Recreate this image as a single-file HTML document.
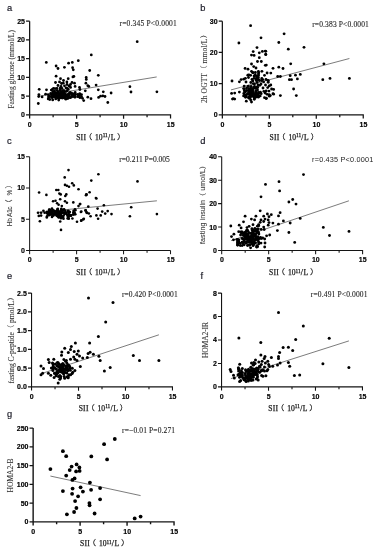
<!DOCTYPE html>
<html><head><meta charset="utf-8"><title>Figure</title>
<style>
html,body{margin:0;padding:0;background:#fff;}
svg{display:block}
.tk{font-family:"Liberation Sans",sans-serif;font-weight:bold;font-size:7px;fill:#000;stroke:#000;stroke-width:0.15px;}
.pl{font-family:"Liberation Sans",sans-serif;font-size:9.3px;fill:#1c1c28;stroke:#1c1c28;stroke-width:0.2px;}
.ax{font-family:"Liberation Serif","Noto Serif CJK SC",serif;font-size:7.6px;fill:#222;stroke:#222;stroke-width:0.25px;}
.ay{font-family:"Liberation Serif","Noto Serif CJK SC",serif;font-size:7.6px;fill:#333;stroke:#333;stroke-width:0.08px;}
.axs{font-family:"Liberation Sans","Noto Sans CJK SC",sans-serif;font-size:7px;fill:#444;stroke:#444;stroke-width:0.12px;}
.st{font-family:"Liberation Serif",serif;font-size:7.5px;fill:#222;stroke:#222;stroke-width:0.1px;}
.sts{font-family:"Liberation Sans",sans-serif;font-size:7.3px;fill:#222;}
.a{stroke:#141414;fill:none;}
.r{stroke:#444;stroke-width:0.7;fill:none;}
circle{fill:#000;}
</style></head><body>
<svg width="377" height="550" viewBox="0 0 377 550">
<rect width="377" height="550" fill="#fff"/>

<g id="panel-a">
<text class="pl" x="7.0" y="10.7">a</text>
<text class="tk" text-anchor="end" x="24.94" y="117.35">0</text>
<text class="tk" text-anchor="end" x="24.94" y="98.60">5</text>
<text class="tk" text-anchor="end" x="24.94" y="79.85">10</text>
<text class="tk" text-anchor="end" x="24.94" y="61.10">15</text>
<text class="tk" text-anchor="end" x="24.94" y="42.35">20</text>
<text class="tk" text-anchor="end" x="24.94" y="23.60">25</text>
<path class="a" stroke-width="1.25" d="M29.64 21.150000000000006V118.60000000000001M26.04 114.9H170.54000000000002V118.60000000000001M26.04 96.15H29.64M26.04 77.40H29.64M26.04 58.65H29.64M26.04 39.90H29.64M26.04 21.15H29.64M53.12 114.9v2.3M76.61 114.9v3.8M100.09 114.9v2.3M123.57 114.9v3.8M147.06 114.9v2.3"/>
<text class="tk" text-anchor="middle" x="29.79" y="126.70">0</text>
<text class="tk" text-anchor="middle" x="76.76" y="126.70">5</text>
<text class="tk" text-anchor="middle" x="123.72" y="126.70">10</text>
<text class="tk" text-anchor="middle" x="170.69" y="126.70">15</text>
<text class="ax" y="139.70"><tspan x="76.14" letter-spacing="0.25">SII</tspan><tspan x="84.64">（</tspan><tspan x="95.04">10</tspan><tspan dy="-2.7" font-size="5.3px">11</tspan><tspan dy="2.7" dx="0.2" letter-spacing="0.6">/L</tspan><tspan x="117.04">）</tspan></text>
<text class="ay" transform="translate(13.6 108.60) rotate(-90)" textLength="78.6">Fasting glucose (mmol/L)</text>
<text class="st" x="119.5" y="26.4" textLength="57.3">r=0.345 P&lt;0.0001</text>
<path class="r" d="M37.8 96.4L156.7 76.95"/>
<circle cx="46.3" cy="62.4" r="1.38"/>
<circle cx="56.1" cy="66.0" r="1.38"/>
<circle cx="58.0" cy="68.5" r="1.38"/>
<circle cx="64.4" cy="67.3" r="1.38"/>
<circle cx="68.6" cy="63.2" r="1.38"/>
<circle cx="72.3" cy="62.4" r="1.38"/>
<circle cx="72.6" cy="67.7" r="1.38"/>
<circle cx="73.3" cy="69.8" r="1.38"/>
<circle cx="56.1" cy="76.2" r="1.38"/>
<circle cx="60.5" cy="78.7" r="1.38"/>
<circle cx="73.9" cy="76.4" r="1.38"/>
<circle cx="72.9" cy="76.9" r="1.38"/>
<circle cx="68.2" cy="78.7" r="1.38"/>
<circle cx="55.5" cy="82.5" r="1.38"/>
<circle cx="59.5" cy="81.9" r="1.38"/>
<circle cx="63.3" cy="83.2" r="1.38"/>
<circle cx="66.9" cy="81.9" r="1.38"/>
<circle cx="72.0" cy="82.5" r="1.38"/>
<circle cx="39.2" cy="89.3" r="1.38"/>
<circle cx="46.5" cy="89.8" r="1.38"/>
<circle cx="52.3" cy="89.5" r="1.38"/>
<circle cx="38.9" cy="94.6" r="1.38"/>
<circle cx="38.7" cy="96.5" r="1.38"/>
<circle cx="42.1" cy="96.9" r="1.38"/>
<circle cx="38.3" cy="103.5" r="1.38"/>
<circle cx="91.3" cy="54.9" r="1.38"/>
<circle cx="78.3" cy="60.7" r="1.38"/>
<circle cx="89.7" cy="70.5" r="1.38"/>
<circle cx="98.3" cy="75.3" r="1.38"/>
<circle cx="86.2" cy="77.5" r="1.38"/>
<circle cx="86.3" cy="79.4" r="1.38"/>
<circle cx="74.5" cy="83.2" r="1.38"/>
<circle cx="85.9" cy="83.2" r="1.38"/>
<circle cx="87.8" cy="85.7" r="1.38"/>
<circle cx="88.8" cy="86.4" r="1.38"/>
<circle cx="96.1" cy="85.1" r="1.38"/>
<circle cx="75.1" cy="86.4" r="1.38"/>
<circle cx="79.5" cy="87.4" r="1.38"/>
<circle cx="70.6" cy="87.4" r="1.38"/>
<circle cx="79.9" cy="89.5" r="1.38"/>
<circle cx="85.3" cy="90.8" r="1.38"/>
<circle cx="98.3" cy="89.8" r="1.38"/>
<circle cx="103.3" cy="91.8" r="1.38"/>
<circle cx="111.1" cy="93.0" r="1.38"/>
<circle cx="98.6" cy="97.4" r="1.38"/>
<circle cx="100.5" cy="96.2" r="1.38"/>
<circle cx="102.8" cy="95.9" r="1.38"/>
<circle cx="105.0" cy="96.5" r="1.38"/>
<circle cx="87.8" cy="97.2" r="1.38"/>
<circle cx="91.0" cy="98.7" r="1.38"/>
<circle cx="83.7" cy="100.6" r="1.38"/>
<circle cx="107.8" cy="102.5" r="1.38"/>
<circle cx="81.5" cy="94.6" r="1.38"/>
<circle cx="78.3" cy="96.5" r="1.38"/>
<circle cx="75.1" cy="97.2" r="1.38"/>
<circle cx="129.9" cy="86.7" r="1.38"/>
<circle cx="131.0" cy="92.0" r="1.38"/>
<circle cx="156.9" cy="91.8" r="1.38"/>
<circle cx="137.2" cy="41.7" r="1.38"/>
<circle cx="58.0" cy="85.5" r="1.38"/>
<circle cx="61.0" cy="86.5" r="1.38"/>
<circle cx="64.5" cy="85.8" r="1.38"/>
<circle cx="62.0" cy="88.5" r="1.38"/>
<circle cx="66.0" cy="88.0" r="1.38"/>
<circle cx="69.0" cy="86.0" r="1.38"/>
<circle cx="57.0" cy="88.5" r="1.38"/>
<circle cx="60.0" cy="90.0" r="1.38"/>
<circle cx="67.0" cy="84.5" r="1.38"/>
<circle cx="70.5" cy="84.5" r="1.38"/>
<circle cx="63.5" cy="80.5" r="1.38"/>
<circle cx="61.5" cy="83.5" r="1.38"/>
<circle cx="61.4" cy="95.7" r="1.38"/>
<circle cx="75.6" cy="94.3" r="1.38"/>
<circle cx="62.5" cy="95.8" r="1.38"/>
<circle cx="55.4" cy="95.8" r="1.38"/>
<circle cx="65.4" cy="96.8" r="1.38"/>
<circle cx="52.4" cy="94.6" r="1.38"/>
<circle cx="52.3" cy="97.7" r="1.38"/>
<circle cx="67.1" cy="90.9" r="1.38"/>
<circle cx="79.9" cy="97.7" r="1.38"/>
<circle cx="66.0" cy="95.7" r="1.38"/>
<circle cx="54.6" cy="90.9" r="1.38"/>
<circle cx="63.0" cy="91.4" r="1.38"/>
<circle cx="55.5" cy="93.9" r="1.38"/>
<circle cx="49.2" cy="95.9" r="1.38"/>
<circle cx="61.1" cy="97.5" r="1.38"/>
<circle cx="62.8" cy="96.0" r="1.38"/>
<circle cx="62.4" cy="96.2" r="1.38"/>
<circle cx="61.5" cy="93.9" r="1.38"/>
<circle cx="82.5" cy="98.3" r="1.38"/>
<circle cx="71.8" cy="95.9" r="1.38"/>
<circle cx="58.6" cy="93.6" r="1.38"/>
<circle cx="58.0" cy="91.9" r="1.38"/>
<circle cx="69.2" cy="94.3" r="1.38"/>
<circle cx="72.0" cy="94.0" r="1.38"/>
<circle cx="77.7" cy="96.5" r="1.38"/>
<circle cx="45.6" cy="94.2" r="1.38"/>
<circle cx="74.8" cy="94.4" r="1.38"/>
<circle cx="79.7" cy="93.6" r="1.38"/>
<circle cx="51.5" cy="96.7" r="1.38"/>
<circle cx="69.6" cy="93.3" r="1.38"/>
<circle cx="52.1" cy="94.8" r="1.38"/>
<circle cx="78.2" cy="95.8" r="1.38"/>
<circle cx="53.3" cy="94.1" r="1.38"/>
<circle cx="52.7" cy="92.1" r="1.38"/>
<circle cx="70.2" cy="92.5" r="1.38"/>
<circle cx="63.7" cy="94.9" r="1.38"/>
<circle cx="55.6" cy="97.0" r="1.38"/>
<circle cx="53.8" cy="96.6" r="1.38"/>
<circle cx="53.3" cy="95.4" r="1.38"/>
<circle cx="56.2" cy="94.1" r="1.38"/>
<circle cx="78.8" cy="96.1" r="1.38"/>
<circle cx="58.3" cy="98.0" r="1.38"/>
<circle cx="56.1" cy="95.0" r="1.38"/>
<circle cx="72.3" cy="95.5" r="1.38"/>
<circle cx="52.7" cy="99.9" r="1.38"/>
<circle cx="56.2" cy="94.0" r="1.38"/>
<circle cx="69.4" cy="93.8" r="1.38"/>
<circle cx="58.2" cy="91.9" r="1.38"/>
<circle cx="52.3" cy="96.4" r="1.38"/>
<circle cx="56.9" cy="96.2" r="1.38"/>
<circle cx="59.7" cy="95.2" r="1.38"/>
<circle cx="77.8" cy="94.3" r="1.38"/>
<circle cx="64.0" cy="97.5" r="1.38"/>
<circle cx="55.3" cy="93.1" r="1.38"/>
<circle cx="74.7" cy="96.4" r="1.38"/>
<circle cx="57.1" cy="93.4" r="1.38"/>
<circle cx="68.4" cy="98.0" r="1.38"/>
<circle cx="55.7" cy="98.9" r="1.38"/>
<circle cx="73.5" cy="95.2" r="1.38"/>
<circle cx="60.7" cy="92.2" r="1.38"/>
<circle cx="49.8" cy="99.5" r="1.38"/>
<circle cx="56.8" cy="96.8" r="1.38"/>
<circle cx="57.3" cy="97.5" r="1.38"/>
<circle cx="64.6" cy="93.8" r="1.38"/>
<circle cx="55.1" cy="97.0" r="1.38"/>
<circle cx="51.3" cy="94.1" r="1.38"/>
<circle cx="63.7" cy="97.4" r="1.38"/>
<circle cx="65.0" cy="93.7" r="1.38"/>
<circle cx="75.2" cy="92.4" r="1.38"/>
<circle cx="48.1" cy="94.6" r="1.38"/>
<circle cx="61.2" cy="91.6" r="1.38"/>
<circle cx="55.2" cy="94.9" r="1.38"/>
<circle cx="64.0" cy="92.4" r="1.38"/>
<circle cx="59.6" cy="98.0" r="1.38"/>
<circle cx="79.7" cy="95.1" r="1.38"/>
<circle cx="67.0" cy="95.5" r="1.38"/>
<circle cx="54.1" cy="91.5" r="1.38"/>
<circle cx="48.2" cy="98.9" r="1.38"/>
<circle cx="67.3" cy="98.4" r="1.38"/>
<circle cx="48.5" cy="96.9" r="1.38"/>
<circle cx="62.0" cy="96.6" r="1.38"/>
<circle cx="58.7" cy="100.0" r="1.38"/>
<circle cx="51.6" cy="96.2" r="1.38"/>
<circle cx="68.3" cy="97.6" r="1.38"/>
<circle cx="68.3" cy="96.1" r="1.38"/>
<circle cx="70.1" cy="97.6" r="1.38"/>
<circle cx="59.3" cy="96.5" r="1.38"/>
<circle cx="74.4" cy="96.9" r="1.38"/>
<circle cx="60.6" cy="97.1" r="1.38"/>
<circle cx="72.7" cy="95.1" r="1.38"/>
<circle cx="65.3" cy="94.4" r="1.38"/>
<circle cx="64.2" cy="95.8" r="1.38"/>
<circle cx="51.8" cy="96.7" r="1.38"/>
<circle cx="81.5" cy="96.6" r="1.38"/>
<circle cx="68.1" cy="94.3" r="1.38"/>
<circle cx="68.3" cy="95.4" r="1.38"/>
<circle cx="61.1" cy="97.4" r="1.38"/>
<circle cx="52.0" cy="97.3" r="1.38"/>
<circle cx="49.2" cy="96.7" r="1.38"/>
<circle cx="62.0" cy="93.4" r="1.38"/>
<circle cx="67.2" cy="95.0" r="1.38"/>
<circle cx="65.0" cy="98.0" r="1.38"/>
<circle cx="57.2" cy="90.6" r="1.38"/>
<circle cx="58.3" cy="96.5" r="1.38"/>
<circle cx="55.9" cy="93.2" r="1.38"/>
<circle cx="74.6" cy="95.4" r="1.38"/>
<circle cx="61.1" cy="97.9" r="1.38"/>
<circle cx="58.8" cy="96.4" r="1.38"/>
<circle cx="55.8" cy="95.3" r="1.38"/>
<circle cx="70.5" cy="97.6" r="1.38"/>
<circle cx="73.4" cy="93.9" r="1.38"/>
<circle cx="64.2" cy="94.0" r="1.38"/>
<circle cx="53.9" cy="95.8" r="1.38"/>
<circle cx="71.7" cy="96.9" r="1.38"/>
<circle cx="67.6" cy="98.2" r="1.38"/>
<circle cx="57.7" cy="93.1" r="1.38"/>
<circle cx="61.3" cy="93.9" r="1.38"/>
<circle cx="56.2" cy="95.1" r="1.38"/>
<circle cx="65.3" cy="95.1" r="1.38"/>
<circle cx="58.6" cy="97.6" r="1.38"/>
<circle cx="71.5" cy="93.1" r="1.38"/>
<circle cx="53.5" cy="88.3" r="1.38"/>
<circle cx="67.3" cy="88.5" r="1.38"/>
<circle cx="63.9" cy="94.1" r="1.38"/>
<circle cx="58.2" cy="96.3" r="1.38"/>
<circle cx="51.3" cy="90.1" r="1.38"/>
<circle cx="60.2" cy="88.1" r="1.38"/>
<circle cx="66.3" cy="91.3" r="1.38"/>
<circle cx="55.2" cy="88.6" r="1.38"/>
<circle cx="62.6" cy="93.1" r="1.38"/>
<circle cx="62.6" cy="94.9" r="1.38"/>
<circle cx="65.8" cy="99.2" r="1.38"/>
<circle cx="63.5" cy="90.9" r="1.38"/>
<circle cx="60.4" cy="90.7" r="1.38"/>
<circle cx="50.7" cy="93.3" r="1.38"/>
<circle cx="64.0" cy="90.7" r="1.38"/>
<circle cx="57.7" cy="92.3" r="1.38"/>
<circle cx="63.7" cy="93.7" r="1.38"/>
<circle cx="62.4" cy="95.9" r="1.38"/>
<circle cx="59.4" cy="96.3" r="1.38"/>
<circle cx="68.3" cy="89.4" r="1.38"/>
<circle cx="69.1" cy="95.6" r="1.38"/>
<circle cx="55.0" cy="93.2" r="1.38"/>
<circle cx="62.6" cy="98.1" r="1.38"/>
<circle cx="59.2" cy="94.1" r="1.38"/>
<circle cx="67.5" cy="96.4" r="1.38"/>
<circle cx="69.6" cy="93.2" r="1.38"/>
<circle cx="63.0" cy="91.0" r="1.38"/>
</g>
<g id="panel-b">
<text class="pl" x="200.3" y="11.1">b</text>
<text class="tk" text-anchor="end" x="217.65" y="117.35">0</text>
<text class="tk" text-anchor="end" x="217.65" y="86.10">10</text>
<text class="tk" text-anchor="end" x="217.65" y="54.85">20</text>
<text class="tk" text-anchor="end" x="217.65" y="23.60">30</text>
<path class="a" stroke-width="1.25" d="M222.35 21.150000000000006V118.60000000000001M218.75 114.9H363.25V118.60000000000001M218.75 83.65H222.35M218.75 52.40H222.35M218.75 21.15H222.35M245.83 114.9v2.3M269.32 114.9v3.8M292.80 114.9v2.3M316.28 114.9v3.8M339.77 114.9v2.3"/>
<text class="tk" text-anchor="middle" x="222.50" y="126.70">0</text>
<text class="tk" text-anchor="middle" x="269.47" y="126.70">5</text>
<text class="tk" text-anchor="middle" x="316.43" y="126.70">10</text>
<text class="tk" text-anchor="middle" x="363.40" y="126.70">15</text>
<text class="ax" y="139.70"><tspan x="269.55" letter-spacing="0.25">SII</tspan><tspan x="278.05">（</tspan><tspan x="288.45">10</tspan><tspan dy="-2.7" font-size="5.3px">11</tspan><tspan dy="2.7" dx="0.2" letter-spacing="0.6">/L</tspan><tspan x="310.45">）</tspan></text>
<text class="ay" transform="translate(206.8 103.00) rotate(-90)" textLength="72">2h OGTT（ mmol/L）</text>
<text class="st" x="312.2" y="26.5" textLength="56.6">r=0.383 P&lt;0.0001</text>
<path class="r" d="M231 89.9L349.4 58.5"/>
<circle cx="250.6" cy="25.7" r="1.42"/>
<circle cx="261.0" cy="37.8" r="1.42"/>
<circle cx="238.9" cy="43.0" r="1.42"/>
<circle cx="257.0" cy="47.6" r="1.42"/>
<circle cx="253.2" cy="51.6" r="1.42"/>
<circle cx="259.3" cy="52.8" r="1.42"/>
<circle cx="262.4" cy="51.4" r="1.42"/>
<circle cx="265.3" cy="51.1" r="1.42"/>
<circle cx="251.5" cy="55.1" r="1.42"/>
<circle cx="254.1" cy="55.4" r="1.42"/>
<circle cx="265.7" cy="54.5" r="1.42"/>
<circle cx="259.3" cy="57.7" r="1.42"/>
<circle cx="257.5" cy="61.5" r="1.42"/>
<circle cx="261.3" cy="61.5" r="1.42"/>
<circle cx="251.5" cy="64.0" r="1.42"/>
<circle cx="265.3" cy="65.3" r="1.42"/>
<circle cx="253.7" cy="66.6" r="1.42"/>
<circle cx="245.1" cy="68.4" r="1.42"/>
<circle cx="248.0" cy="69.2" r="1.42"/>
<circle cx="251.5" cy="71.3" r="1.42"/>
<circle cx="258.4" cy="71.5" r="1.42"/>
<circle cx="261.9" cy="71.3" r="1.42"/>
<circle cx="253.2" cy="72.7" r="1.42"/>
<circle cx="250.6" cy="75.3" r="1.42"/>
<circle cx="254.1" cy="76.1" r="1.42"/>
<circle cx="264.5" cy="75.3" r="1.42"/>
<circle cx="232.0" cy="81.0" r="1.42"/>
<circle cx="241.1" cy="79.6" r="1.42"/>
<circle cx="243.7" cy="79.2" r="1.42"/>
<circle cx="239.4" cy="81.8" r="1.42"/>
<circle cx="267.9" cy="80.5" r="1.42"/>
<circle cx="262.7" cy="79.6" r="1.42"/>
<circle cx="231.6" cy="93.4" r="1.42"/>
<circle cx="234.7" cy="93.1" r="1.42"/>
<circle cx="232.5" cy="99.1" r="1.42"/>
<circle cx="234.7" cy="99.1" r="1.42"/>
<circle cx="246.3" cy="101.2" r="1.42"/>
<circle cx="251.5" cy="102.0" r="1.42"/>
<circle cx="264.5" cy="97.7" r="1.42"/>
<circle cx="284.1" cy="33.8" r="1.42"/>
<circle cx="278.8" cy="42.5" r="1.42"/>
<circle cx="288.3" cy="49.2" r="1.42"/>
<circle cx="304.0" cy="47.3" r="1.42"/>
<circle cx="290.7" cy="63.8" r="1.42"/>
<circle cx="323.9" cy="63.8" r="1.42"/>
<circle cx="273.0" cy="68.3" r="1.42"/>
<circle cx="278.8" cy="67.2" r="1.42"/>
<circle cx="283.0" cy="68.5" r="1.42"/>
<circle cx="270.8" cy="73.1" r="1.42"/>
<circle cx="277.7" cy="76.5" r="1.42"/>
<circle cx="280.4" cy="76.5" r="1.42"/>
<circle cx="290.2" cy="75.7" r="1.42"/>
<circle cx="295.5" cy="75.2" r="1.42"/>
<circle cx="300.3" cy="74.4" r="1.42"/>
<circle cx="289.4" cy="79.7" r="1.42"/>
<circle cx="291.5" cy="79.7" r="1.42"/>
<circle cx="297.4" cy="78.9" r="1.42"/>
<circle cx="322.8" cy="79.7" r="1.42"/>
<circle cx="330.0" cy="78.4" r="1.42"/>
<circle cx="349.4" cy="78.4" r="1.42"/>
<circle cx="293.6" cy="89.0" r="1.42"/>
<circle cx="280.4" cy="95.6" r="1.42"/>
<circle cx="296.3" cy="95.6" r="1.42"/>
<circle cx="265.8" cy="51.3" r="1.42"/>
<circle cx="265.8" cy="54.5" r="1.42"/>
<circle cx="266.3" cy="65.1" r="1.42"/>
<circle cx="267.1" cy="73.0" r="1.42"/>
<circle cx="268.2" cy="82.3" r="1.42"/>
<circle cx="270.8" cy="85.0" r="1.42"/>
<circle cx="267.7" cy="87.6" r="1.42"/>
<circle cx="271.6" cy="89.0" r="1.42"/>
<circle cx="269.0" cy="91.1" r="1.42"/>
<circle cx="273.0" cy="93.7" r="1.42"/>
<circle cx="267.1" cy="94.3" r="1.42"/>
<circle cx="270.3" cy="95.6" r="1.42"/>
<circle cx="266.3" cy="98.2" r="1.42"/>
<circle cx="233.3" cy="98.6" r="1.42"/>
<circle cx="269.2" cy="94.7" r="1.42"/>
<circle cx="273.6" cy="94.2" r="1.42"/>
<circle cx="266.0" cy="79.5" r="1.42"/>
<circle cx="263.6" cy="81.9" r="1.42"/>
<circle cx="268.4" cy="80.8" r="1.42"/>
<circle cx="269.2" cy="85.9" r="1.42"/>
<circle cx="273.6" cy="89.4" r="1.42"/>
<circle cx="256.0" cy="68.0" r="1.42"/>
<circle cx="258.5" cy="75.5" r="1.42"/>
<circle cx="256.0" cy="79.0" r="1.42"/>
<circle cx="259.5" cy="80.5" r="1.42"/>
<circle cx="252.0" cy="79.5" r="1.42"/>
<circle cx="248.5" cy="77.5" r="1.42"/>
<circle cx="246.0" cy="82.0" r="1.42"/>
<circle cx="261.0" cy="84.0" r="1.42"/>
<circle cx="263.0" cy="88.0" r="1.42"/>
<circle cx="257.0" cy="82.5" r="1.42"/>
<circle cx="254.5" cy="84.0" r="1.42"/>
<circle cx="253.5" cy="94.2" r="1.42"/>
<circle cx="255.8" cy="97.2" r="1.42"/>
<circle cx="255.0" cy="96.8" r="1.42"/>
<circle cx="245.2" cy="91.6" r="1.42"/>
<circle cx="258.7" cy="93.2" r="1.42"/>
<circle cx="257.7" cy="87.5" r="1.42"/>
<circle cx="252.0" cy="89.4" r="1.42"/>
<circle cx="252.7" cy="92.5" r="1.42"/>
<circle cx="244.5" cy="89.0" r="1.42"/>
<circle cx="249.9" cy="96.7" r="1.42"/>
<circle cx="255.3" cy="88.2" r="1.42"/>
<circle cx="255.8" cy="87.9" r="1.42"/>
<circle cx="253.5" cy="87.7" r="1.42"/>
<circle cx="243.6" cy="95.9" r="1.42"/>
<circle cx="249.0" cy="89.0" r="1.42"/>
<circle cx="260.2" cy="95.9" r="1.42"/>
<circle cx="250.0" cy="97.7" r="1.42"/>
<circle cx="252.6" cy="93.5" r="1.42"/>
<circle cx="248.9" cy="97.2" r="1.42"/>
<circle cx="254.3" cy="97.9" r="1.42"/>
<circle cx="257.5" cy="90.0" r="1.42"/>
<circle cx="250.9" cy="88.3" r="1.42"/>
<circle cx="248.0" cy="86.5" r="1.42"/>
<circle cx="250.2" cy="92.8" r="1.42"/>
<circle cx="243.8" cy="93.5" r="1.42"/>
<circle cx="250.6" cy="90.1" r="1.42"/>
<circle cx="256.1" cy="91.7" r="1.42"/>
<circle cx="250.3" cy="91.7" r="1.42"/>
<circle cx="254.5" cy="86.3" r="1.42"/>
<circle cx="259.8" cy="85.3" r="1.42"/>
<circle cx="255.1" cy="95.5" r="1.42"/>
<circle cx="244.8" cy="94.7" r="1.42"/>
<circle cx="250.9" cy="92.5" r="1.42"/>
<circle cx="244.2" cy="86.1" r="1.42"/>
<circle cx="248.6" cy="97.6" r="1.42"/>
<circle cx="248.8" cy="94.3" r="1.42"/>
<circle cx="258.3" cy="97.2" r="1.42"/>
<circle cx="250.7" cy="90.6" r="1.42"/>
<circle cx="252.5" cy="94.6" r="1.42"/>
<circle cx="247.3" cy="94.2" r="1.42"/>
<circle cx="255.8" cy="95.7" r="1.42"/>
<circle cx="245.5" cy="97.3" r="1.42"/>
<circle cx="246.9" cy="90.4" r="1.42"/>
<circle cx="253.4" cy="96.7" r="1.42"/>
<circle cx="250.6" cy="96.8" r="1.42"/>
<circle cx="252.7" cy="90.1" r="1.42"/>
<circle cx="250.4" cy="88.5" r="1.42"/>
<circle cx="246.7" cy="88.1" r="1.42"/>
<circle cx="254.3" cy="99.3" r="1.42"/>
<circle cx="248.3" cy="86.1" r="1.42"/>
<circle cx="260.4" cy="92.2" r="1.42"/>
<circle cx="251.3" cy="89.3" r="1.42"/>
<circle cx="253.2" cy="95.2" r="1.42"/>
<circle cx="251.8" cy="91.2" r="1.42"/>
<circle cx="246.1" cy="96.7" r="1.42"/>
<circle cx="245.4" cy="91.8" r="1.42"/>
<circle cx="256.5" cy="87.8" r="1.42"/>
<circle cx="254.9" cy="97.4" r="1.42"/>
<circle cx="255.2" cy="95.1" r="1.42"/>
<circle cx="244.3" cy="90.8" r="1.42"/>
<circle cx="245.6" cy="96.0" r="1.42"/>
<circle cx="249.1" cy="91.0" r="1.42"/>
<circle cx="269.4" cy="96.2" r="1.42"/>
<circle cx="266.2" cy="91.0" r="1.42"/>
<circle cx="252.6" cy="94.3" r="1.42"/>
<circle cx="252.4" cy="88.8" r="1.42"/>
<circle cx="251.1" cy="86.3" r="1.42"/>
<circle cx="250.7" cy="100.0" r="1.42"/>
<circle cx="265.1" cy="93.0" r="1.42"/>
<circle cx="252.8" cy="89.5" r="1.42"/>
<circle cx="243.6" cy="88.6" r="1.42"/>
<circle cx="258.6" cy="96.4" r="1.42"/>
<circle cx="250.4" cy="95.1" r="1.42"/>
<circle cx="258.4" cy="93.8" r="1.42"/>
<circle cx="255.9" cy="94.7" r="1.42"/>
<circle cx="250.4" cy="93.9" r="1.42"/>
<circle cx="248.8" cy="91.4" r="1.42"/>
<circle cx="258.3" cy="93.8" r="1.42"/>
<circle cx="249.1" cy="98.3" r="1.42"/>
<circle cx="255.6" cy="92.5" r="1.42"/>
<circle cx="239.4" cy="92.1" r="1.42"/>
<circle cx="248.1" cy="93.5" r="1.42"/>
<circle cx="252.1" cy="95.5" r="1.42"/>
<circle cx="255.5" cy="95.2" r="1.42"/>
<circle cx="250.1" cy="93.2" r="1.42"/>
<circle cx="257.5" cy="95.7" r="1.42"/>
<circle cx="250.2" cy="96.0" r="1.42"/>
<circle cx="261.2" cy="93.7" r="1.42"/>
<circle cx="266.2" cy="98.6" r="1.42"/>
<circle cx="253.1" cy="91.9" r="1.42"/>
<circle cx="246.1" cy="95.9" r="1.42"/>
<circle cx="263.9" cy="91.3" r="1.42"/>
<circle cx="256.5" cy="94.1" r="1.42"/>
<circle cx="257.3" cy="86.8" r="1.42"/>
<circle cx="258.6" cy="92.5" r="1.42"/>
<circle cx="255.9" cy="90.6" r="1.42"/>
<circle cx="255.1" cy="94.9" r="1.42"/>
<circle cx="255.3" cy="94.1" r="1.42"/>
<circle cx="247.8" cy="75.2" r="1.42"/>
<circle cx="256.3" cy="80.5" r="1.42"/>
<circle cx="252.9" cy="80.9" r="1.42"/>
<circle cx="258.7" cy="72.7" r="1.42"/>
<circle cx="256.7" cy="76.2" r="1.42"/>
<circle cx="248.9" cy="74.8" r="1.42"/>
<circle cx="254.6" cy="75.6" r="1.42"/>
<circle cx="252.5" cy="72.5" r="1.42"/>
<circle cx="256.6" cy="78.0" r="1.42"/>
<circle cx="258.4" cy="80.0" r="1.42"/>
<circle cx="253.3" cy="83.6" r="1.42"/>
<circle cx="245.4" cy="78.3" r="1.42"/>
<circle cx="254.0" cy="78.3" r="1.42"/>
<circle cx="250.8" cy="82.5" r="1.42"/>
<circle cx="255.4" cy="72.5" r="1.42"/>
<circle cx="258.5" cy="74.0" r="1.42"/>
<circle cx="257.6" cy="77.6" r="1.42"/>
<circle cx="258.0" cy="84.8" r="1.42"/>
<circle cx="261.8" cy="78.4" r="1.42"/>
<circle cx="261.7" cy="80.5" r="1.42"/>
<circle cx="255.3" cy="74.9" r="1.42"/>
<circle cx="258.2" cy="79.8" r="1.42"/>
<circle cx="265.5" cy="85.0" r="1.42"/>
<circle cx="258.4" cy="77.7" r="1.42"/>
</g>
<g id="panel-c">
<text class="pl" x="7.1" y="143.7">c</text>
<text class="tk" text-anchor="end" x="24.94" y="252.95">0</text>
<text class="tk" text-anchor="end" x="24.94" y="221.70">5</text>
<text class="tk" text-anchor="end" x="24.94" y="190.45">10</text>
<text class="tk" text-anchor="end" x="24.94" y="159.20">15</text>
<path class="a" stroke-width="1.0" d="M29.64 156.75V254.2M26.04 250.5H170.54000000000002V254.2M26.04 219.25H29.64M26.04 188.00H29.64M26.04 156.75H29.64M53.12 250.5v2.3M76.61 250.5v3.8M100.09 250.5v2.3M123.57 250.5v3.8M147.06 250.5v2.3"/>
<text class="tk" text-anchor="middle" x="29.79" y="262.30">0</text>
<text class="tk" text-anchor="middle" x="76.76" y="262.30">5</text>
<text class="tk" text-anchor="middle" x="123.72" y="262.30">10</text>
<text class="tk" text-anchor="middle" x="170.69" y="262.30">15</text>
<text class="ax" y="275.30"><tspan x="76.14" letter-spacing="0.25">SII</tspan><tspan x="84.64">（</tspan><tspan x="95.04">10</tspan><tspan dy="-2.7" font-size="5.3px">11</tspan><tspan dy="2.7" dx="0.2" letter-spacing="0.6">/L</tspan><tspan x="117.04">）</tspan></text>
<text class="axs" style="font-size:6.5px" transform="translate(12.1 225.8) rotate(-90)"><tspan x="-0.4 3.95 8.8 13.0 16.15">HbA1c</tspan><tspan x="18.9" font-size="7.5px">（</tspan><tspan x="30.3">%</tspan><tspan x="37.3" font-size="7.5px">）</tspan></text>
<text class="st" x="119.3" y="162.0" textLength="50.5">r=0.211 P=0.005</text>
<path class="r" d="M37.8 212.4L156.9 200.8"/>
<circle cx="68.5" cy="170.1" r="1.32"/>
<circle cx="64.7" cy="177.4" r="1.32"/>
<circle cx="72.2" cy="183.3" r="1.32"/>
<circle cx="73.8" cy="185.4" r="1.32"/>
<circle cx="65.0" cy="184.9" r="1.32"/>
<circle cx="66.9" cy="185.7" r="1.32"/>
<circle cx="69.0" cy="186.8" r="1.32"/>
<circle cx="78.5" cy="189.2" r="1.32"/>
<circle cx="56.3" cy="190.0" r="1.32"/>
<circle cx="58.3" cy="190.0" r="1.32"/>
<circle cx="39.1" cy="192.5" r="1.32"/>
<circle cx="46.4" cy="194.9" r="1.32"/>
<circle cx="59.4" cy="193.6" r="1.32"/>
<circle cx="60.7" cy="194.4" r="1.32"/>
<circle cx="66.3" cy="194.4" r="1.32"/>
<circle cx="65.3" cy="196.0" r="1.32"/>
<circle cx="86.5" cy="194.4" r="1.32"/>
<circle cx="60.2" cy="199.2" r="1.32"/>
<circle cx="53.1" cy="201.3" r="1.32"/>
<circle cx="55.5" cy="200.8" r="1.32"/>
<circle cx="65.0" cy="201.3" r="1.32"/>
<circle cx="66.9" cy="202.7" r="1.32"/>
<circle cx="73.3" cy="202.4" r="1.32"/>
<circle cx="80.1" cy="204.0" r="1.32"/>
<circle cx="57.1" cy="203.2" r="1.32"/>
<circle cx="58.6" cy="204.8" r="1.32"/>
<circle cx="61.8" cy="206.1" r="1.32"/>
<circle cx="78.5" cy="206.1" r="1.32"/>
<circle cx="39.9" cy="221.2" r="1.32"/>
<circle cx="60.2" cy="221.5" r="1.32"/>
<circle cx="61.0" cy="229.9" r="1.32"/>
<circle cx="77.0" cy="221.8" r="1.32"/>
<circle cx="81.2" cy="220.7" r="1.32"/>
<circle cx="83.3" cy="219.4" r="1.32"/>
<circle cx="80.9" cy="212.0" r="1.32"/>
<circle cx="85.7" cy="210.4" r="1.32"/>
<circle cx="86.5" cy="212.4" r="1.32"/>
<circle cx="88.9" cy="213.5" r="1.32"/>
<circle cx="38.0" cy="212.7" r="1.32"/>
<circle cx="38.8" cy="215.9" r="1.32"/>
<circle cx="41.1" cy="212.7" r="1.32"/>
<circle cx="41.1" cy="215.6" r="1.32"/>
<circle cx="98.4" cy="174.3" r="1.32"/>
<circle cx="91.3" cy="180.6" r="1.32"/>
<circle cx="137.5" cy="181.4" r="1.32"/>
<circle cx="89.6" cy="192.2" r="1.32"/>
<circle cx="86.3" cy="194.5" r="1.32"/>
<circle cx="96.4" cy="198.5" r="1.32"/>
<circle cx="103.9" cy="205.3" r="1.32"/>
<circle cx="88.3" cy="206.6" r="1.32"/>
<circle cx="80.0" cy="204.1" r="1.32"/>
<circle cx="131.2" cy="207.3" r="1.32"/>
<circle cx="97.6" cy="208.6" r="1.32"/>
<circle cx="85.5" cy="210.4" r="1.32"/>
<circle cx="87.1" cy="212.9" r="1.32"/>
<circle cx="81.3" cy="211.6" r="1.32"/>
<circle cx="102.2" cy="211.6" r="1.32"/>
<circle cx="107.7" cy="211.1" r="1.32"/>
<circle cx="105.2" cy="213.6" r="1.32"/>
<circle cx="111.5" cy="214.1" r="1.32"/>
<circle cx="156.9" cy="214.1" r="1.32"/>
<circle cx="129.9" cy="216.2" r="1.32"/>
<circle cx="90.6" cy="216.2" r="1.32"/>
<circle cx="96.4" cy="215.4" r="1.32"/>
<circle cx="100.7" cy="215.4" r="1.32"/>
<circle cx="98.1" cy="218.7" r="1.32"/>
<circle cx="83.8" cy="218.7" r="1.32"/>
<circle cx="81.3" cy="220.4" r="1.32"/>
<circle cx="95.9" cy="198.0" r="1.32"/>
<circle cx="86.0" cy="195.2" r="1.32"/>
<circle cx="57.1" cy="210.7" r="1.32"/>
<circle cx="63.5" cy="209.7" r="1.32"/>
<circle cx="61.2" cy="212.4" r="1.32"/>
<circle cx="49.0" cy="213.3" r="1.32"/>
<circle cx="47.8" cy="212.8" r="1.32"/>
<circle cx="49.5" cy="209.9" r="1.32"/>
<circle cx="59.1" cy="215.8" r="1.32"/>
<circle cx="51.7" cy="211.3" r="1.32"/>
<circle cx="63.0" cy="217.5" r="1.32"/>
<circle cx="62.0" cy="212.6" r="1.32"/>
<circle cx="75.0" cy="209.3" r="1.32"/>
<circle cx="69.2" cy="211.9" r="1.32"/>
<circle cx="52.4" cy="210.3" r="1.32"/>
<circle cx="56.7" cy="215.7" r="1.32"/>
<circle cx="53.5" cy="213.8" r="1.32"/>
<circle cx="63.3" cy="212.5" r="1.32"/>
<circle cx="61.4" cy="209.5" r="1.32"/>
<circle cx="49.0" cy="211.2" r="1.32"/>
<circle cx="64.2" cy="212.8" r="1.32"/>
<circle cx="56.9" cy="213.8" r="1.32"/>
<circle cx="59.7" cy="211.9" r="1.32"/>
<circle cx="67.1" cy="214.7" r="1.32"/>
<circle cx="55.2" cy="213.7" r="1.32"/>
<circle cx="61.0" cy="216.4" r="1.32"/>
<circle cx="65.4" cy="211.9" r="1.32"/>
<circle cx="75.3" cy="210.3" r="1.32"/>
<circle cx="59.0" cy="215.1" r="1.32"/>
<circle cx="52.6" cy="213.2" r="1.32"/>
<circle cx="47.9" cy="214.4" r="1.32"/>
<circle cx="66.3" cy="213.7" r="1.32"/>
<circle cx="69.8" cy="212.1" r="1.32"/>
<circle cx="64.6" cy="213.9" r="1.32"/>
<circle cx="62.0" cy="213.0" r="1.32"/>
<circle cx="68.5" cy="217.4" r="1.32"/>
<circle cx="60.0" cy="214.4" r="1.32"/>
<circle cx="49.1" cy="214.7" r="1.32"/>
<circle cx="63.5" cy="218.8" r="1.32"/>
<circle cx="68.0" cy="211.8" r="1.32"/>
<circle cx="58.4" cy="214.4" r="1.32"/>
<circle cx="46.7" cy="213.0" r="1.32"/>
<circle cx="53.1" cy="210.3" r="1.32"/>
<circle cx="49.0" cy="215.2" r="1.32"/>
<circle cx="51.9" cy="211.5" r="1.32"/>
<circle cx="58.5" cy="216.3" r="1.32"/>
<circle cx="50.0" cy="212.9" r="1.32"/>
<circle cx="61.4" cy="216.5" r="1.32"/>
<circle cx="67.9" cy="216.2" r="1.32"/>
<circle cx="56.1" cy="212.7" r="1.32"/>
<circle cx="57.8" cy="216.5" r="1.32"/>
<circle cx="73.6" cy="210.7" r="1.32"/>
<circle cx="53.4" cy="211.4" r="1.32"/>
<circle cx="54.9" cy="213.2" r="1.32"/>
<circle cx="62.2" cy="211.7" r="1.32"/>
<circle cx="44.6" cy="212.8" r="1.32"/>
<circle cx="58.0" cy="213.7" r="1.32"/>
<circle cx="73.3" cy="214.6" r="1.32"/>
<circle cx="60.8" cy="214.0" r="1.32"/>
<circle cx="64.1" cy="209.4" r="1.32"/>
<circle cx="70.7" cy="215.4" r="1.32"/>
<circle cx="69.7" cy="215.5" r="1.32"/>
<circle cx="58.5" cy="212.6" r="1.32"/>
<circle cx="51.0" cy="214.2" r="1.32"/>
<circle cx="49.2" cy="209.6" r="1.32"/>
<circle cx="54.3" cy="210.8" r="1.32"/>
<circle cx="57.4" cy="209.4" r="1.32"/>
<circle cx="43.4" cy="210.7" r="1.32"/>
<circle cx="50.9" cy="212.4" r="1.32"/>
<circle cx="47.0" cy="216.4" r="1.32"/>
<circle cx="62.8" cy="210.6" r="1.32"/>
<circle cx="55.4" cy="212.3" r="1.32"/>
<circle cx="57.9" cy="210.3" r="1.32"/>
<circle cx="68.8" cy="218.8" r="1.32"/>
<circle cx="59.9" cy="213.2" r="1.32"/>
<circle cx="50.2" cy="210.1" r="1.32"/>
<circle cx="57.5" cy="211.7" r="1.32"/>
<circle cx="68.2" cy="210.8" r="1.32"/>
<circle cx="46.8" cy="217.5" r="1.32"/>
<circle cx="61.0" cy="210.6" r="1.32"/>
<circle cx="61.3" cy="208.8" r="1.32"/>
<circle cx="61.0" cy="218.2" r="1.32"/>
<circle cx="69.3" cy="214.6" r="1.32"/>
<circle cx="55.6" cy="212.4" r="1.32"/>
<circle cx="53.1" cy="215.3" r="1.32"/>
<circle cx="61.1" cy="215.3" r="1.32"/>
<circle cx="57.2" cy="211.3" r="1.32"/>
<circle cx="67.6" cy="218.4" r="1.32"/>
<circle cx="69.0" cy="215.6" r="1.32"/>
<circle cx="67.9" cy="215.0" r="1.32"/>
<circle cx="54.8" cy="213.4" r="1.32"/>
<circle cx="57.8" cy="208.9" r="1.32"/>
<circle cx="47.1" cy="211.8" r="1.32"/>
<circle cx="55.6" cy="214.6" r="1.32"/>
<circle cx="73.5" cy="212.9" r="1.32"/>
<circle cx="72.4" cy="218.5" r="1.32"/>
<circle cx="73.5" cy="212.4" r="1.32"/>
<circle cx="54.6" cy="211.4" r="1.32"/>
<circle cx="54.0" cy="211.2" r="1.32"/>
<circle cx="63.0" cy="216.7" r="1.32"/>
<circle cx="68.6" cy="213.1" r="1.32"/>
<circle cx="63.6" cy="215.5" r="1.32"/>
<circle cx="50.2" cy="214.4" r="1.32"/>
<circle cx="71.1" cy="215.4" r="1.32"/>
<circle cx="65.9" cy="213.1" r="1.32"/>
<circle cx="53.5" cy="215.4" r="1.32"/>
<circle cx="57.3" cy="215.6" r="1.32"/>
<circle cx="74.6" cy="212.6" r="1.32"/>
<circle cx="58.7" cy="217.5" r="1.32"/>
<circle cx="65.3" cy="210.8" r="1.32"/>
<circle cx="51.8" cy="210.7" r="1.32"/>
<circle cx="70.9" cy="215.6" r="1.32"/>
<circle cx="52.5" cy="215.8" r="1.32"/>
<circle cx="75.3" cy="214.3" r="1.32"/>
<circle cx="57.6" cy="213.6" r="1.32"/>
<circle cx="52.0" cy="208.5" r="1.32"/>
<circle cx="74.5" cy="214.3" r="1.32"/>
<circle cx="61.0" cy="217.2" r="1.32"/>
<circle cx="59.3" cy="216.3" r="1.32"/>
<circle cx="68.1" cy="211.2" r="1.32"/>
<circle cx="55.4" cy="211.9" r="1.32"/>
<circle cx="55.1" cy="213.8" r="1.32"/>
<circle cx="55.6" cy="212.8" r="1.32"/>
<circle cx="52.0" cy="216.9" r="1.32"/>
<circle cx="57.7" cy="213.0" r="1.32"/>
<circle cx="62.1" cy="216.8" r="1.32"/>
<circle cx="59.0" cy="217.0" r="1.32"/>
</g>
<g id="panel-d">
<text class="pl" x="200.3" y="143.7">d</text>
<text class="tk" text-anchor="end" x="217.00" y="252.95">0</text>
<text class="tk" text-anchor="end" x="217.00" y="229.51">10</text>
<text class="tk" text-anchor="end" x="217.00" y="206.07">20</text>
<text class="tk" text-anchor="end" x="217.00" y="182.64">30</text>
<text class="tk" text-anchor="end" x="217.00" y="159.20">40</text>
<path class="a" stroke-width="1.05" d="M221.7 156.75V254.2M218.1 250.5H362.6V254.2M218.1 227.06H221.7M218.1 203.62H221.7M218.1 180.19H221.7M218.1 156.75H221.7M245.18 250.5v2.3M268.67 250.5v3.8M292.15 250.5v2.3M315.63 250.5v3.8M339.12 250.5v2.3"/>
<text class="tk" text-anchor="middle" x="221.85" y="262.30">0</text>
<text class="tk" text-anchor="middle" x="268.82" y="262.30">5</text>
<text class="tk" text-anchor="middle" x="315.78" y="262.30">10</text>
<text class="tk" text-anchor="middle" x="362.75" y="262.30">15</text>
<text class="ax" y="275.30"><tspan x="269.00" letter-spacing="0.25">SII</tspan><tspan x="277.50">（</tspan><tspan x="287.90">10</tspan><tspan dy="-2.7" font-size="5.3px">11</tspan><tspan dy="2.7" dx="0.2" letter-spacing="0.6">/L</tspan><tspan x="309.90">）</tspan></text>
<text class="axs" transform="translate(204.7 244.00) rotate(-90)" textLength="82">fasting insulin（ umol/L）</text>
<text class="sts" x="312.1" y="162.0" textLength="61.2">r=0.435 P&lt;0.0001</text>
<path class="r" d="M231.1 240.65L348.9 200.8"/>
<circle cx="279.0" cy="181.7" r="1.42"/>
<circle cx="265.5" cy="184.4" r="1.42"/>
<circle cx="279.6" cy="190.9" r="1.42"/>
<circle cx="261.0" cy="196.8" r="1.42"/>
<circle cx="260.2" cy="210.8" r="1.42"/>
<circle cx="280.1" cy="212.7" r="1.42"/>
<circle cx="267.4" cy="214.0" r="1.42"/>
<circle cx="271.3" cy="214.7" r="1.42"/>
<circle cx="278.5" cy="215.9" r="1.42"/>
<circle cx="245.1" cy="216.2" r="1.42"/>
<circle cx="255.9" cy="216.2" r="1.42"/>
<circle cx="263.7" cy="216.2" r="1.42"/>
<circle cx="269.0" cy="216.7" r="1.42"/>
<circle cx="251.4" cy="219.1" r="1.42"/>
<circle cx="254.6" cy="219.9" r="1.42"/>
<circle cx="261.0" cy="219.9" r="1.42"/>
<circle cx="265.0" cy="219.1" r="1.42"/>
<circle cx="268.2" cy="219.9" r="1.42"/>
<circle cx="243.5" cy="221.8" r="1.42"/>
<circle cx="260.2" cy="222.3" r="1.42"/>
<circle cx="263.7" cy="221.5" r="1.42"/>
<circle cx="269.0" cy="222.6" r="1.42"/>
<circle cx="272.9" cy="223.1" r="1.42"/>
<circle cx="278.5" cy="224.2" r="1.42"/>
<circle cx="230.8" cy="226.0" r="1.42"/>
<circle cx="239.2" cy="225.2" r="1.42"/>
<circle cx="253.0" cy="224.7" r="1.42"/>
<circle cx="258.6" cy="224.7" r="1.42"/>
<circle cx="268.2" cy="225.2" r="1.42"/>
<circle cx="249.1" cy="226.3" r="1.42"/>
<circle cx="263.7" cy="227.1" r="1.42"/>
<circle cx="241.1" cy="227.9" r="1.42"/>
<circle cx="277.4" cy="230.6" r="1.42"/>
<circle cx="264.2" cy="229.5" r="1.42"/>
<circle cx="233.9" cy="234.2" r="1.42"/>
<circle cx="231.5" cy="236.6" r="1.42"/>
<circle cx="233.5" cy="239.8" r="1.42"/>
<circle cx="269.7" cy="235.0" r="1.42"/>
<circle cx="266.6" cy="235.8" r="1.42"/>
<circle cx="264.7" cy="239.0" r="1.42"/>
<circle cx="265.0" cy="243.0" r="1.42"/>
<circle cx="264.7" cy="247.0" r="1.42"/>
<circle cx="303.5" cy="174.6" r="1.42"/>
<circle cx="292.7" cy="199.5" r="1.42"/>
<circle cx="288.9" cy="202.0" r="1.42"/>
<circle cx="296.0" cy="204.1" r="1.42"/>
<circle cx="300.2" cy="218.4" r="1.42"/>
<circle cx="283.4" cy="220.9" r="1.42"/>
<circle cx="290.2" cy="223.0" r="1.42"/>
<circle cx="323.3" cy="227.4" r="1.42"/>
<circle cx="288.9" cy="232.5" r="1.42"/>
<circle cx="349.0" cy="231.4" r="1.42"/>
<circle cx="329.5" cy="235.5" r="1.42"/>
<circle cx="294.7" cy="242.4" r="1.42"/>
<circle cx="246.0" cy="238.9" r="1.42"/>
<circle cx="248.5" cy="239.6" r="1.42"/>
<circle cx="252.3" cy="230.2" r="1.42"/>
<circle cx="238.4" cy="242.8" r="1.42"/>
<circle cx="246.4" cy="234.3" r="1.42"/>
<circle cx="262.7" cy="238.0" r="1.42"/>
<circle cx="256.3" cy="238.0" r="1.42"/>
<circle cx="252.5" cy="232.6" r="1.42"/>
<circle cx="252.5" cy="243.3" r="1.42"/>
<circle cx="250.8" cy="241.3" r="1.42"/>
<circle cx="253.1" cy="230.1" r="1.42"/>
<circle cx="254.6" cy="239.5" r="1.42"/>
<circle cx="257.0" cy="238.0" r="1.42"/>
<circle cx="253.9" cy="243.5" r="1.42"/>
<circle cx="253.8" cy="244.4" r="1.42"/>
<circle cx="248.9" cy="242.2" r="1.42"/>
<circle cx="249.7" cy="244.8" r="1.42"/>
<circle cx="257.4" cy="231.2" r="1.42"/>
<circle cx="243.6" cy="234.0" r="1.42"/>
<circle cx="260.5" cy="237.5" r="1.42"/>
<circle cx="252.3" cy="235.5" r="1.42"/>
<circle cx="250.6" cy="236.8" r="1.42"/>
<circle cx="248.1" cy="239.4" r="1.42"/>
<circle cx="251.7" cy="244.0" r="1.42"/>
<circle cx="253.2" cy="244.6" r="1.42"/>
<circle cx="256.8" cy="247.0" r="1.42"/>
<circle cx="253.1" cy="232.8" r="1.42"/>
<circle cx="256.9" cy="245.7" r="1.42"/>
<circle cx="258.1" cy="239.2" r="1.42"/>
<circle cx="253.8" cy="233.9" r="1.42"/>
<circle cx="256.2" cy="239.3" r="1.42"/>
<circle cx="246.9" cy="230.1" r="1.42"/>
<circle cx="256.7" cy="246.9" r="1.42"/>
<circle cx="242.1" cy="242.2" r="1.42"/>
<circle cx="249.1" cy="232.6" r="1.42"/>
<circle cx="247.1" cy="241.7" r="1.42"/>
<circle cx="257.2" cy="229.3" r="1.42"/>
<circle cx="252.2" cy="229.4" r="1.42"/>
<circle cx="253.9" cy="236.0" r="1.42"/>
<circle cx="257.4" cy="246.4" r="1.42"/>
<circle cx="250.6" cy="247.8" r="1.42"/>
<circle cx="247.4" cy="230.5" r="1.42"/>
<circle cx="251.9" cy="228.7" r="1.42"/>
<circle cx="245.1" cy="237.1" r="1.42"/>
<circle cx="252.1" cy="232.7" r="1.42"/>
<circle cx="240.2" cy="243.3" r="1.42"/>
<circle cx="247.5" cy="245.5" r="1.42"/>
<circle cx="257.9" cy="236.7" r="1.42"/>
<circle cx="249.9" cy="238.6" r="1.42"/>
<circle cx="252.6" cy="239.5" r="1.42"/>
<circle cx="251.3" cy="239.8" r="1.42"/>
<circle cx="259.4" cy="238.4" r="1.42"/>
<circle cx="249.5" cy="241.0" r="1.42"/>
<circle cx="246.0" cy="235.5" r="1.42"/>
<circle cx="261.2" cy="238.6" r="1.42"/>
<circle cx="249.2" cy="239.3" r="1.42"/>
<circle cx="238.9" cy="239.8" r="1.42"/>
<circle cx="252.4" cy="230.0" r="1.42"/>
<circle cx="252.4" cy="237.9" r="1.42"/>
<circle cx="253.2" cy="236.3" r="1.42"/>
<circle cx="253.7" cy="241.3" r="1.42"/>
<circle cx="253.1" cy="245.7" r="1.42"/>
<circle cx="246.3" cy="237.8" r="1.42"/>
<circle cx="251.8" cy="235.8" r="1.42"/>
<circle cx="248.4" cy="235.7" r="1.42"/>
<circle cx="248.5" cy="239.5" r="1.42"/>
<circle cx="247.2" cy="236.7" r="1.42"/>
<circle cx="254.9" cy="228.5" r="1.42"/>
<circle cx="251.5" cy="241.2" r="1.42"/>
<circle cx="247.4" cy="234.1" r="1.42"/>
<circle cx="255.5" cy="234.4" r="1.42"/>
<circle cx="244.9" cy="237.5" r="1.42"/>
<circle cx="253.5" cy="231.3" r="1.42"/>
<circle cx="247.6" cy="236.0" r="1.42"/>
<circle cx="256.2" cy="237.5" r="1.42"/>
<circle cx="256.7" cy="233.0" r="1.42"/>
<circle cx="247.9" cy="240.2" r="1.42"/>
<circle cx="257.5" cy="237.7" r="1.42"/>
<circle cx="245.7" cy="231.8" r="1.42"/>
<circle cx="250.9" cy="233.4" r="1.42"/>
<circle cx="255.6" cy="242.8" r="1.42"/>
<circle cx="244.8" cy="235.1" r="1.42"/>
<circle cx="255.6" cy="240.1" r="1.42"/>
<circle cx="255.6" cy="236.2" r="1.42"/>
<circle cx="243.4" cy="235.3" r="1.42"/>
<circle cx="255.3" cy="235.0" r="1.42"/>
<circle cx="248.1" cy="237.2" r="1.42"/>
<circle cx="249.3" cy="237.1" r="1.42"/>
<circle cx="258.6" cy="232.7" r="1.42"/>
<circle cx="237.4" cy="245.0" r="1.42"/>
<circle cx="257.4" cy="246.7" r="1.42"/>
<circle cx="249.5" cy="245.2" r="1.42"/>
<circle cx="258.9" cy="234.1" r="1.42"/>
<circle cx="254.4" cy="242.7" r="1.42"/>
<circle cx="252.9" cy="238.6" r="1.42"/>
<circle cx="247.0" cy="236.1" r="1.42"/>
<circle cx="251.8" cy="235.2" r="1.42"/>
<circle cx="255.7" cy="229.4" r="1.42"/>
<circle cx="258.1" cy="240.7" r="1.42"/>
<circle cx="258.7" cy="243.9" r="1.42"/>
<circle cx="258.0" cy="239.3" r="1.42"/>
<circle cx="238.3" cy="241.4" r="1.42"/>
<circle cx="244.5" cy="235.5" r="1.42"/>
<circle cx="252.9" cy="238.7" r="1.42"/>
<circle cx="249.2" cy="244.9" r="1.42"/>
<circle cx="252.1" cy="236.1" r="1.42"/>
<circle cx="246.3" cy="243.2" r="1.42"/>
<circle cx="250.2" cy="241.9" r="1.42"/>
<circle cx="248.2" cy="233.6" r="1.42"/>
<circle cx="251.0" cy="242.4" r="1.42"/>
<circle cx="244.5" cy="242.0" r="1.42"/>
<circle cx="258.7" cy="242.2" r="1.42"/>
<circle cx="252.4" cy="243.2" r="1.42"/>
<circle cx="240.6" cy="235.0" r="1.42"/>
<circle cx="246.6" cy="238.7" r="1.42"/>
<circle cx="249.3" cy="238.0" r="1.42"/>
<circle cx="240.8" cy="232.0" r="1.42"/>
<circle cx="261.0" cy="243.1" r="1.42"/>
<circle cx="242.0" cy="238.4" r="1.42"/>
<circle cx="247.5" cy="235.7" r="1.42"/>
<circle cx="248.1" cy="240.1" r="1.42"/>
<circle cx="251.7" cy="236.4" r="1.42"/>
<circle cx="245.0" cy="235.9" r="1.42"/>
<circle cx="243.2" cy="239.1" r="1.42"/>
<circle cx="253.8" cy="236.7" r="1.42"/>
<circle cx="238.7" cy="231.7" r="1.42"/>
<circle cx="241.4" cy="232.8" r="1.42"/>
<circle cx="245.0" cy="232.3" r="1.42"/>
<circle cx="245.2" cy="232.9" r="1.42"/>
<circle cx="241.9" cy="232.2" r="1.42"/>
<circle cx="242.5" cy="233.1" r="1.42"/>
<circle cx="241.8" cy="233.0" r="1.42"/>
<circle cx="242.1" cy="231.9" r="1.42"/>
<circle cx="242.8" cy="233.0" r="1.42"/>
<circle cx="237.4" cy="241.9" r="1.42"/>
<circle cx="240.3" cy="245.5" r="1.42"/>
<circle cx="244.5" cy="241.5" r="1.42"/>
<circle cx="244.2" cy="244.8" r="1.42"/>
<circle cx="238.9" cy="242.2" r="1.42"/>
<circle cx="237.8" cy="245.0" r="1.42"/>
<circle cx="242.2" cy="245.6" r="1.42"/>
<circle cx="243.3" cy="243.8" r="1.42"/>
<circle cx="242.8" cy="243.0" r="1.42"/>
<circle cx="237.6" cy="243.2" r="1.42"/>
<circle cx="236.8" cy="239.6" r="1.42"/>
<circle cx="243.1" cy="238.9" r="1.42"/>
<circle cx="237.6" cy="239.3" r="1.42"/>
<circle cx="244.0" cy="239.9" r="1.42"/>
<circle cx="246.4" cy="231.0" r="1.42"/>
<circle cx="247.9" cy="231.0" r="1.42"/>
<circle cx="256.8" cy="230.9" r="1.42"/>
<circle cx="261.2" cy="229.3" r="1.42"/>
<circle cx="258.8" cy="225.7" r="1.42"/>
<circle cx="258.3" cy="228.8" r="1.42"/>
<circle cx="257.4" cy="226.2" r="1.42"/>
<circle cx="258.0" cy="231.6" r="1.42"/>
<circle cx="247.0" cy="227.6" r="1.42"/>
<circle cx="255.0" cy="230.9" r="1.42"/>
</g>
<g id="panel-e">
<text class="pl" x="7.0" y="279.0">e</text>
<text class="tk" text-anchor="end" x="26.85" y="389.32">0.0</text>
<text class="tk" text-anchor="end" x="26.85" y="370.57">0.5</text>
<text class="tk" text-anchor="end" x="26.85" y="351.82">1.0</text>
<text class="tk" text-anchor="end" x="26.85" y="333.07">1.5</text>
<text class="tk" text-anchor="end" x="26.85" y="314.32">2.0</text>
<text class="tk" text-anchor="end" x="26.85" y="295.57">2.5</text>
<path class="a" stroke-width="1.1" d="M31.55 293.12V390.57M27.95 386.87H172.45000000000002V390.57M27.95 368.12H31.55M27.95 349.37H31.55M27.95 330.62H31.55M27.95 311.87H31.55M27.95 293.12H31.55M55.03 386.87v2.3M78.52 386.87v3.8M102.00 386.87v2.3M125.48 386.87v3.8M148.97 386.87v2.3"/>
<text class="tk" text-anchor="middle" x="31.70" y="398.67">0</text>
<text class="tk" text-anchor="middle" x="78.67" y="398.67">5</text>
<text class="tk" text-anchor="middle" x="125.63" y="398.67">10</text>
<text class="tk" text-anchor="middle" x="172.60" y="398.67">15</text>
<text class="ax" y="411.07"><tspan x="78.65" letter-spacing="0.25">SII</tspan><tspan x="87.15">（</tspan><tspan x="97.55">10</tspan><tspan dy="-2.7" font-size="5.3px">11</tspan><tspan dy="2.7" dx="0.2" letter-spacing="0.6">/L</tspan><tspan x="119.55">）</tspan></text>
<text class="ay" transform="translate(13.6 383.40) rotate(-90)" textLength="90">fasting C-peptide（ pmol/L）</text>
<text class="st" x="121.9" y="296.7" textLength="55.8">r=0.420 P&lt;0.0001</text>
<path class="r" d="M40.9 373.8L158.9 334.8"/>
<circle cx="88.5" cy="297.9" r="1.5"/>
<circle cx="75.4" cy="342.9" r="1.5"/>
<circle cx="89.6" cy="342.9" r="1.5"/>
<circle cx="71.3" cy="346.5" r="1.5"/>
<circle cx="64.7" cy="348.2" r="1.5"/>
<circle cx="70.5" cy="349.5" r="1.5"/>
<circle cx="61.8" cy="351.9" r="1.5"/>
<circle cx="68.3" cy="352.6" r="1.5"/>
<circle cx="74.2" cy="351.5" r="1.5"/>
<circle cx="78.3" cy="351.1" r="1.5"/>
<circle cx="90.1" cy="352.3" r="1.5"/>
<circle cx="88.1" cy="353.4" r="1.5"/>
<circle cx="77.0" cy="354.2" r="1.5"/>
<circle cx="61.5" cy="355.2" r="1.5"/>
<circle cx="79.5" cy="355.9" r="1.5"/>
<circle cx="73.7" cy="356.9" r="1.5"/>
<circle cx="82.7" cy="358.0" r="1.5"/>
<circle cx="87.3" cy="357.5" r="1.5"/>
<circle cx="70.5" cy="359.3" r="1.5"/>
<circle cx="74.9" cy="359.3" r="1.5"/>
<circle cx="77.0" cy="360.5" r="1.5"/>
<circle cx="48.4" cy="359.6" r="1.5"/>
<circle cx="53.8" cy="359.3" r="1.5"/>
<circle cx="63.9" cy="359.6" r="1.5"/>
<circle cx="66.4" cy="360.5" r="1.5"/>
<circle cx="49.2" cy="362.4" r="1.5"/>
<circle cx="52.5" cy="362.9" r="1.5"/>
<circle cx="41.0" cy="365.9" r="1.5"/>
<circle cx="43.5" cy="368.6" r="1.5"/>
<circle cx="80.3" cy="366.5" r="1.5"/>
<circle cx="69.6" cy="366.2" r="1.5"/>
<circle cx="74.9" cy="370.6" r="1.5"/>
<circle cx="42.6" cy="373.2" r="1.5"/>
<circle cx="41.0" cy="374.7" r="1.5"/>
<circle cx="48.4" cy="373.2" r="1.5"/>
<circle cx="50.8" cy="375.2" r="1.5"/>
<circle cx="54.1" cy="377.6" r="1.5"/>
<circle cx="58.2" cy="382.9" r="1.5"/>
<circle cx="59.8" cy="379.3" r="1.5"/>
<circle cx="67.2" cy="376.8" r="1.5"/>
<circle cx="72.1" cy="373.5" r="1.5"/>
<circle cx="113.0" cy="302.5" r="1.5"/>
<circle cx="105.7" cy="322.0" r="1.5"/>
<circle cx="98.4" cy="336.6" r="1.5"/>
<circle cx="93.4" cy="354.2" r="1.5"/>
<circle cx="98.9" cy="356.2" r="1.5"/>
<circle cx="100.2" cy="360.5" r="1.5"/>
<circle cx="133.3" cy="355.6" r="1.5"/>
<circle cx="139.5" cy="360.5" r="1.5"/>
<circle cx="158.9" cy="360.5" r="1.5"/>
<circle cx="110.2" cy="367.6" r="1.5"/>
<circle cx="104.4" cy="371.1" r="1.5"/>
<circle cx="57.0" cy="371.5" r="1.5"/>
<circle cx="63.5" cy="369.2" r="1.5"/>
<circle cx="57.9" cy="373.0" r="1.5"/>
<circle cx="66.2" cy="369.5" r="1.5"/>
<circle cx="61.8" cy="366.4" r="1.5"/>
<circle cx="51.4" cy="368.1" r="1.5"/>
<circle cx="62.8" cy="363.5" r="1.5"/>
<circle cx="66.0" cy="366.4" r="1.5"/>
<circle cx="58.2" cy="362.7" r="1.5"/>
<circle cx="72.7" cy="372.2" r="1.5"/>
<circle cx="67.6" cy="370.6" r="1.5"/>
<circle cx="53.4" cy="367.6" r="1.5"/>
<circle cx="61.7" cy="364.5" r="1.5"/>
<circle cx="69.9" cy="368.0" r="1.5"/>
<circle cx="56.8" cy="373.4" r="1.5"/>
<circle cx="56.1" cy="375.7" r="1.5"/>
<circle cx="61.2" cy="369.9" r="1.5"/>
<circle cx="59.8" cy="369.2" r="1.5"/>
<circle cx="57.4" cy="362.6" r="1.5"/>
<circle cx="67.4" cy="366.4" r="1.5"/>
<circle cx="65.7" cy="366.1" r="1.5"/>
<circle cx="70.6" cy="374.8" r="1.5"/>
<circle cx="65.3" cy="372.5" r="1.5"/>
<circle cx="62.7" cy="372.1" r="1.5"/>
<circle cx="56.1" cy="369.1" r="1.5"/>
<circle cx="66.6" cy="365.9" r="1.5"/>
<circle cx="68.9" cy="374.7" r="1.5"/>
<circle cx="60.7" cy="368.0" r="1.5"/>
<circle cx="61.2" cy="368.2" r="1.5"/>
<circle cx="72.3" cy="368.2" r="1.5"/>
<circle cx="53.1" cy="364.0" r="1.5"/>
<circle cx="64.7" cy="378.3" r="1.5"/>
<circle cx="61.7" cy="369.3" r="1.5"/>
<circle cx="62.4" cy="372.3" r="1.5"/>
<circle cx="58.0" cy="370.6" r="1.5"/>
<circle cx="62.4" cy="370.7" r="1.5"/>
<circle cx="57.3" cy="365.5" r="1.5"/>
<circle cx="59.9" cy="375.6" r="1.5"/>
<circle cx="59.9" cy="370.4" r="1.5"/>
<circle cx="59.3" cy="364.3" r="1.5"/>
<circle cx="54.6" cy="373.3" r="1.5"/>
<circle cx="65.7" cy="368.1" r="1.5"/>
<circle cx="64.2" cy="371.4" r="1.5"/>
<circle cx="68.2" cy="376.6" r="1.5"/>
<circle cx="60.6" cy="378.0" r="1.5"/>
<circle cx="70.2" cy="370.3" r="1.5"/>
<circle cx="67.8" cy="369.3" r="1.5"/>
<circle cx="60.2" cy="366.6" r="1.5"/>
<circle cx="67.7" cy="365.3" r="1.5"/>
<circle cx="54.7" cy="373.2" r="1.5"/>
<circle cx="65.6" cy="369.2" r="1.5"/>
<circle cx="66.8" cy="363.0" r="1.5"/>
<circle cx="58.6" cy="367.1" r="1.5"/>
<circle cx="60.8" cy="365.5" r="1.5"/>
<circle cx="54.7" cy="367.7" r="1.5"/>
<circle cx="68.2" cy="377.7" r="1.5"/>
<circle cx="65.1" cy="369.2" r="1.5"/>
<circle cx="58.5" cy="376.6" r="1.5"/>
<circle cx="62.1" cy="372.0" r="1.5"/>
<circle cx="53.2" cy="366.1" r="1.5"/>
<circle cx="66.8" cy="373.0" r="1.5"/>
<circle cx="67.8" cy="370.5" r="1.5"/>
<circle cx="60.9" cy="370.2" r="1.5"/>
<circle cx="67.1" cy="367.4" r="1.5"/>
<circle cx="62.2" cy="367.0" r="1.5"/>
<circle cx="65.5" cy="361.3" r="1.5"/>
<circle cx="64.2" cy="376.4" r="1.5"/>
<circle cx="52.9" cy="370.4" r="1.5"/>
<circle cx="63.6" cy="374.0" r="1.5"/>
<circle cx="62.8" cy="366.7" r="1.5"/>
<circle cx="60.6" cy="376.6" r="1.5"/>
<circle cx="68.4" cy="364.8" r="1.5"/>
<circle cx="55.4" cy="364.1" r="1.5"/>
<circle cx="53.0" cy="368.9" r="1.5"/>
<circle cx="56.5" cy="374.3" r="1.5"/>
<circle cx="63.7" cy="364.7" r="1.5"/>
<circle cx="62.2" cy="367.5" r="1.5"/>
<circle cx="61.7" cy="366.2" r="1.5"/>
<circle cx="57.0" cy="365.7" r="1.5"/>
<circle cx="60.3" cy="371.8" r="1.5"/>
</g>
<g id="panel-f">
<text class="pl" x="200.5" y="279.0">f</text>
<text class="tk" text-anchor="end" x="216.85" y="389.32">0</text>
<text class="tk" text-anchor="end" x="216.85" y="365.88">2</text>
<text class="tk" text-anchor="end" x="216.85" y="342.44">4</text>
<text class="tk" text-anchor="end" x="216.85" y="319.01">6</text>
<text class="tk" text-anchor="end" x="216.85" y="295.57">8</text>
<path class="a" stroke-width="1.1" d="M221.55 293.12V390.57M217.95000000000002 386.87H362.45000000000005V390.57M217.95000000000002 363.43H221.55M217.95000000000002 340.00H221.55M217.95000000000002 316.56H221.55M217.95000000000002 293.12H221.55M245.03 386.87v2.3M268.52 386.87v3.8M292.00 386.87v2.3M315.48 386.87v3.8M338.97 386.87v2.3"/>
<text class="tk" text-anchor="middle" x="221.70" y="398.67">0</text>
<text class="tk" text-anchor="middle" x="268.67" y="398.67">5</text>
<text class="tk" text-anchor="middle" x="315.63" y="398.67">10</text>
<text class="tk" text-anchor="middle" x="362.60" y="398.67">15</text>
<text class="ax" y="411.07"><tspan x="268.35" letter-spacing="0.25">SII</tspan><tspan x="276.85">（</tspan><tspan x="287.25">10</tspan><tspan dy="-2.7" font-size="5.3px">11</tspan><tspan dy="2.7" dx="0.2" letter-spacing="0.6">/L</tspan><tspan x="309.25">）</tspan></text>
<text class="ay" transform="translate(208.0 358.00) rotate(-90)" textLength="36">HOMA2-IR</text>
<text class="st" x="310.8" y="296.7" textLength="56.7">r=0.491 P&lt;0.0001</text>
<path class="r" d="M230.9 378.6L348.9 340.9"/>
<circle cx="278.5" cy="312.5" r="1.5"/>
<circle cx="238.9" cy="338.0" r="1.5"/>
<circle cx="260.8" cy="342.5" r="1.5"/>
<circle cx="279.6" cy="352.6" r="1.5"/>
<circle cx="260.9" cy="355.1" r="1.5"/>
<circle cx="265.0" cy="356.4" r="1.5"/>
<circle cx="278.5" cy="356.4" r="1.5"/>
<circle cx="271.4" cy="357.5" r="1.5"/>
<circle cx="264.2" cy="358.5" r="1.5"/>
<circle cx="278.5" cy="358.5" r="1.5"/>
<circle cx="255.5" cy="360.0" r="1.5"/>
<circle cx="262.1" cy="361.3" r="1.5"/>
<circle cx="267.8" cy="361.3" r="1.5"/>
<circle cx="258.8" cy="362.1" r="1.5"/>
<circle cx="251.5" cy="362.9" r="1.5"/>
<circle cx="265.4" cy="362.9" r="1.5"/>
<circle cx="280.1" cy="362.9" r="1.5"/>
<circle cx="239.7" cy="364.2" r="1.5"/>
<circle cx="261.3" cy="364.5" r="1.5"/>
<circle cx="268.6" cy="364.5" r="1.5"/>
<circle cx="277.5" cy="365.0" r="1.5"/>
<circle cx="272.7" cy="366.2" r="1.5"/>
<circle cx="260.1" cy="367.0" r="1.5"/>
<circle cx="264.5" cy="367.0" r="1.5"/>
<circle cx="269.5" cy="366.5" r="1.5"/>
<circle cx="238.4" cy="367.8" r="1.5"/>
<circle cx="230.2" cy="369.5" r="1.5"/>
<circle cx="231.0" cy="371.6" r="1.5"/>
<circle cx="264.5" cy="371.1" r="1.5"/>
<circle cx="233.5" cy="375.2" r="1.5"/>
<circle cx="234.3" cy="378.1" r="1.5"/>
<circle cx="265.9" cy="375.7" r="1.5"/>
<circle cx="262.9" cy="376.3" r="1.5"/>
<circle cx="303.3" cy="326.0" r="1.5"/>
<circle cx="329.2" cy="338.3" r="1.5"/>
<circle cx="295.7" cy="339.6" r="1.5"/>
<circle cx="283.1" cy="347.4" r="1.5"/>
<circle cx="288.4" cy="347.2" r="1.5"/>
<circle cx="292.7" cy="350.4" r="1.5"/>
<circle cx="288.4" cy="362.5" r="1.5"/>
<circle cx="289.7" cy="366.3" r="1.5"/>
<circle cx="322.9" cy="363.8" r="1.5"/>
<circle cx="348.9" cy="367.6" r="1.5"/>
<circle cx="294.4" cy="375.6" r="1.5"/>
<circle cx="299.7" cy="375.1" r="1.5"/>
<circle cx="249.1" cy="373.4" r="1.5"/>
<circle cx="243.4" cy="378.4" r="1.5"/>
<circle cx="238.0" cy="374.7" r="1.5"/>
<circle cx="257.5" cy="369.2" r="1.5"/>
<circle cx="250.4" cy="375.7" r="1.5"/>
<circle cx="240.2" cy="373.5" r="1.5"/>
<circle cx="252.9" cy="374.2" r="1.5"/>
<circle cx="253.4" cy="370.6" r="1.5"/>
<circle cx="245.5" cy="369.8" r="1.5"/>
<circle cx="249.7" cy="379.4" r="1.5"/>
<circle cx="251.0" cy="377.2" r="1.5"/>
<circle cx="248.0" cy="376.9" r="1.5"/>
<circle cx="242.4" cy="372.5" r="1.5"/>
<circle cx="252.4" cy="376.7" r="1.5"/>
<circle cx="248.5" cy="369.3" r="1.5"/>
<circle cx="246.1" cy="371.4" r="1.5"/>
<circle cx="246.3" cy="377.6" r="1.5"/>
<circle cx="244.8" cy="378.7" r="1.5"/>
<circle cx="256.9" cy="368.5" r="1.5"/>
<circle cx="247.9" cy="374.6" r="1.5"/>
<circle cx="239.3" cy="373.9" r="1.5"/>
<circle cx="257.8" cy="369.8" r="1.5"/>
<circle cx="251.1" cy="370.0" r="1.5"/>
<circle cx="250.8" cy="378.8" r="1.5"/>
<circle cx="241.9" cy="375.0" r="1.5"/>
<circle cx="239.0" cy="369.3" r="1.5"/>
<circle cx="249.6" cy="379.3" r="1.5"/>
<circle cx="248.5" cy="373.7" r="1.5"/>
<circle cx="251.8" cy="369.5" r="1.5"/>
<circle cx="250.8" cy="370.9" r="1.5"/>
<circle cx="251.3" cy="380.1" r="1.5"/>
<circle cx="240.8" cy="375.2" r="1.5"/>
<circle cx="251.3" cy="370.5" r="1.5"/>
<circle cx="246.1" cy="381.5" r="1.5"/>
<circle cx="263.1" cy="370.0" r="1.5"/>
<circle cx="253.0" cy="379.9" r="1.5"/>
<circle cx="245.5" cy="375.6" r="1.5"/>
<circle cx="240.3" cy="373.3" r="1.5"/>
<circle cx="252.4" cy="375.5" r="1.5"/>
<circle cx="254.4" cy="369.3" r="1.5"/>
<circle cx="247.4" cy="378.4" r="1.5"/>
<circle cx="250.9" cy="374.2" r="1.5"/>
<circle cx="248.3" cy="381.0" r="1.5"/>
<circle cx="250.8" cy="367.3" r="1.5"/>
<circle cx="254.9" cy="372.9" r="1.5"/>
<circle cx="248.7" cy="371.5" r="1.5"/>
<circle cx="248.9" cy="372.9" r="1.5"/>
<circle cx="242.0" cy="375.8" r="1.5"/>
<circle cx="242.5" cy="377.3" r="1.5"/>
<circle cx="239.5" cy="377.3" r="1.5"/>
<circle cx="255.1" cy="374.6" r="1.5"/>
<circle cx="253.1" cy="372.0" r="1.5"/>
<circle cx="253.6" cy="373.9" r="1.5"/>
<circle cx="245.4" cy="380.3" r="1.5"/>
<circle cx="248.2" cy="373.4" r="1.5"/>
<circle cx="256.4" cy="373.4" r="1.5"/>
<circle cx="252.3" cy="370.9" r="1.5"/>
<circle cx="256.0" cy="372.1" r="1.5"/>
<circle cx="240.7" cy="380.6" r="1.5"/>
<circle cx="244.2" cy="379.8" r="1.5"/>
<circle cx="261.6" cy="375.6" r="1.5"/>
<circle cx="238.5" cy="368.7" r="1.5"/>
<circle cx="245.0" cy="373.6" r="1.5"/>
<circle cx="251.3" cy="380.3" r="1.5"/>
<circle cx="247.5" cy="370.4" r="1.5"/>
<circle cx="250.6" cy="370.3" r="1.5"/>
<circle cx="242.0" cy="375.2" r="1.5"/>
<circle cx="252.8" cy="368.8" r="1.5"/>
<circle cx="249.0" cy="376.5" r="1.5"/>
<circle cx="254.1" cy="373.5" r="1.5"/>
<circle cx="257.2" cy="370.8" r="1.5"/>
<circle cx="253.2" cy="377.2" r="1.5"/>
<circle cx="257.0" cy="374.6" r="1.5"/>
<circle cx="242.3" cy="368.4" r="1.5"/>
<circle cx="250.1" cy="370.9" r="1.5"/>
<circle cx="251.6" cy="369.3" r="1.5"/>
<circle cx="254.5" cy="371.6" r="1.5"/>
<circle cx="238.6" cy="370.9" r="1.5"/>
<circle cx="249.0" cy="375.2" r="1.5"/>
<circle cx="248.1" cy="370.9" r="1.5"/>
<circle cx="249.4" cy="379.8" r="1.5"/>
<circle cx="250.2" cy="379.7" r="1.5"/>
<circle cx="239.6" cy="381.4" r="1.5"/>
<circle cx="257.2" cy="375.1" r="1.5"/>
<circle cx="250.0" cy="375.0" r="1.5"/>
<circle cx="257.9" cy="368.8" r="1.5"/>
<circle cx="251.9" cy="375.0" r="1.5"/>
<circle cx="246.7" cy="376.7" r="1.5"/>
<circle cx="253.3" cy="369.7" r="1.5"/>
<circle cx="252.9" cy="374.2" r="1.5"/>
<circle cx="249.5" cy="375.9" r="1.5"/>
<circle cx="240.8" cy="375.6" r="1.5"/>
<circle cx="247.8" cy="378.6" r="1.5"/>
<circle cx="245.4" cy="377.8" r="1.5"/>
<circle cx="253.4" cy="375.8" r="1.5"/>
<circle cx="256.8" cy="368.0" r="1.5"/>
<circle cx="251.1" cy="375.7" r="1.5"/>
<circle cx="252.5" cy="373.8" r="1.5"/>
<circle cx="241.4" cy="371.1" r="1.5"/>
<circle cx="251.3" cy="371.0" r="1.5"/>
<circle cx="253.0" cy="364.9" r="1.5"/>
<circle cx="259.5" cy="366.6" r="1.5"/>
<circle cx="252.4" cy="368.9" r="1.5"/>
<circle cx="257.3" cy="368.9" r="1.5"/>
<circle cx="252.1" cy="370.6" r="1.5"/>
<circle cx="261.4" cy="370.8" r="1.5"/>
<circle cx="267.8" cy="369.4" r="1.5"/>
<circle cx="253.7" cy="364.8" r="1.5"/>
<circle cx="255.7" cy="368.9" r="1.5"/>
<circle cx="255.1" cy="363.6" r="1.5"/>
<circle cx="253.8" cy="362.6" r="1.5"/>
<circle cx="267.0" cy="370.8" r="1.5"/>
<circle cx="258.0" cy="368.5" r="1.5"/>
<circle cx="259.5" cy="366.5" r="1.5"/>
<circle cx="257.5" cy="376.7" r="1.5"/>
<circle cx="256.2" cy="372.7" r="1.5"/>
<circle cx="258.9" cy="372.1" r="1.5"/>
<circle cx="258.2" cy="379.9" r="1.5"/>
<circle cx="254.2" cy="371.1" r="1.5"/>
<circle cx="261.6" cy="370.6" r="1.5"/>
<circle cx="256.4" cy="378.9" r="1.5"/>
<circle cx="259.7" cy="372.3" r="1.5"/>
<circle cx="254.6" cy="372.9" r="1.5"/>
<circle cx="256.9" cy="378.4" r="1.5"/>
</g>
<g id="panel-g">
<text class="pl" x="7.0" y="416.5">g</text>
<text class="tk" text-anchor="end" x="28.44" y="524.32">0</text>
<text class="tk" text-anchor="end" x="28.44" y="505.57">50</text>
<text class="tk" text-anchor="end" x="28.44" y="486.82">100</text>
<text class="tk" text-anchor="end" x="28.44" y="468.07">150</text>
<text class="tk" text-anchor="end" x="28.44" y="449.32">200</text>
<text class="tk" text-anchor="end" x="28.44" y="430.57">250</text>
<path class="a" stroke-width="1.4" d="M33.14 428.12V525.57M29.54 521.87H174.04000000000002V525.57M29.54 503.12H33.14M29.54 484.37H33.14M29.54 465.62H33.14M29.54 446.87H33.14M29.54 428.12H33.14M56.62 521.87v2.3M80.11 521.87v3.8M103.59 521.87v2.3M127.07 521.87v3.8M150.56 521.87v2.3"/>
<text class="tk" text-anchor="middle" x="33.29" y="533.67">0</text>
<text class="tk" text-anchor="middle" x="80.26" y="533.67">5</text>
<text class="tk" text-anchor="middle" x="127.22" y="533.67">10</text>
<text class="tk" text-anchor="middle" x="174.19" y="533.67">15</text>
<text class="ax" y="546.27"><tspan x="80.04" letter-spacing="0.25">SII</tspan><tspan x="88.54">（</tspan><tspan x="98.94">10</tspan><tspan dy="-2.7" font-size="5.3px">11</tspan><tspan dy="2.7" dx="0.2" letter-spacing="0.6">/L</tspan><tspan x="120.94">）</tspan></text>
<text class="ay" transform="translate(12.8 492.40) rotate(-90)" textLength="34">HOMA2-B</text>
<text class="st" x="122.1" y="433.3" textLength="53.0">r=−0.01 P=0.271</text>
<path class="r" d="M50.4 476.05L140.6 495.6"/>
<circle cx="114.8" cy="439.0" r="1.9"/>
<circle cx="104.1" cy="444.2" r="1.9"/>
<circle cx="107.1" cy="459.4" r="1.9"/>
<circle cx="62.9" cy="451.2" r="1.9"/>
<circle cx="66.2" cy="456.2" r="1.9"/>
<circle cx="91.3" cy="456.4" r="1.9"/>
<circle cx="50.4" cy="469.1" r="1.9"/>
<circle cx="76.6" cy="464.4" r="1.9"/>
<circle cx="71.6" cy="466.6" r="1.9"/>
<circle cx="79.4" cy="467.4" r="1.9"/>
<circle cx="69.7" cy="470.1" r="1.9"/>
<circle cx="76.1" cy="471.4" r="1.9"/>
<circle cx="79.6" cy="470.9" r="1.9"/>
<circle cx="66.2" cy="475.6" r="1.9"/>
<circle cx="74.6" cy="478.4" r="1.9"/>
<circle cx="72.4" cy="479.9" r="1.9"/>
<circle cx="89.9" cy="482.6" r="1.9"/>
<circle cx="80.6" cy="487.3" r="1.9"/>
<circle cx="72.6" cy="488.6" r="1.9"/>
<circle cx="62.9" cy="491.1" r="1.9"/>
<circle cx="82.9" cy="491.6" r="1.9"/>
<circle cx="91.1" cy="489.8" r="1.9"/>
<circle cx="100.1" cy="488.1" r="1.9"/>
<circle cx="72.1" cy="493.8" r="1.9"/>
<circle cx="78.1" cy="496.3" r="1.9"/>
<circle cx="100.1" cy="499.3" r="1.9"/>
<circle cx="75.1" cy="501.1" r="1.9"/>
<circle cx="89.4" cy="503.1" r="1.9"/>
<circle cx="89.6" cy="505.3" r="1.9"/>
<circle cx="76.4" cy="508.0" r="1.9"/>
<circle cx="74.1" cy="512.0" r="1.9"/>
<circle cx="66.9" cy="514.3" r="1.9"/>
<circle cx="94.6" cy="513.5" r="1.9"/>
<circle cx="134.7" cy="518.4" r="1.9"/>
<circle cx="140.6" cy="516.6" r="1.9"/>
</g>
</svg></body></html>
